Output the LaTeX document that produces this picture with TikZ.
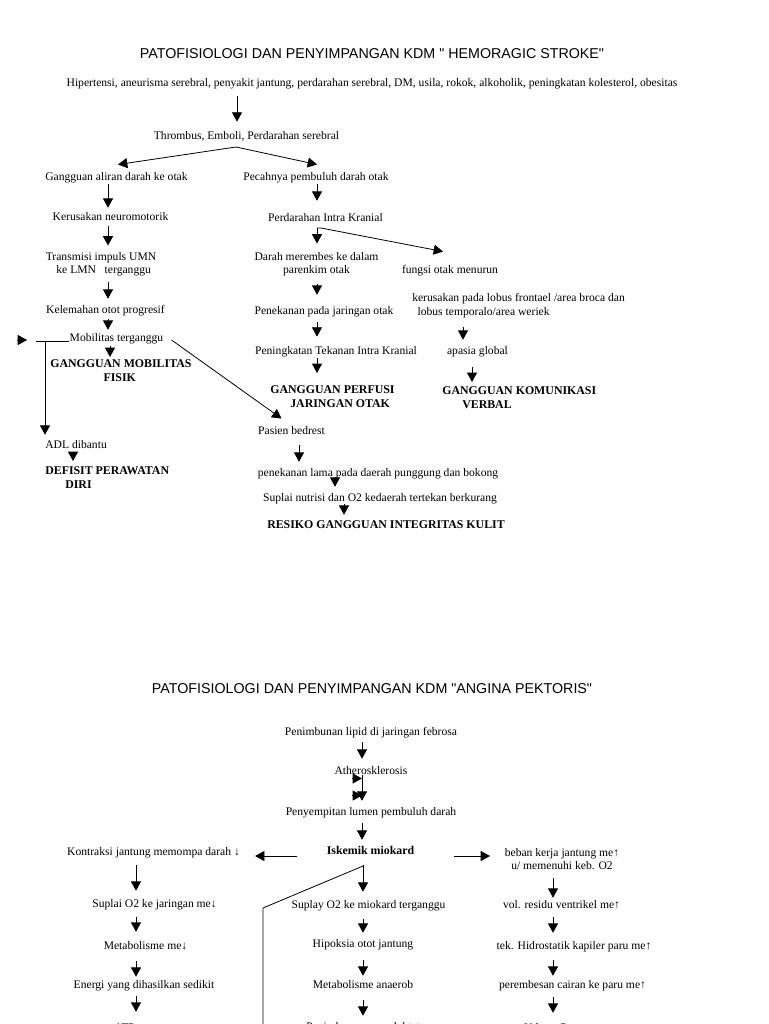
\documentclass[tikz,border=0pt]{standalone}
\usepackage{fontspec}
\setmainfont{Liberation Serif}
\newfontfamily\titlefont{Liberation Sans}
\usetikzlibrary{arrows.meta}
\begin{document}
\begin{tikzpicture}[x=0.75pt,y=-0.75pt,
  lbl/.style={inner sep=0pt, font=\fontsize{8.7}{10}\selectfont, text height=7.5pt, text depth=0.3pt},
  lblm/.style={inner sep=0pt, font=\fontsize{8.7}{10}\selectfont, align=center},
  bld/.style={inner sep=0pt, font=\fontsize{8.9}{10.5}\selectfont\bfseries, align=left},
  ttl/.style={inner sep=0pt, font=\titlefont\fontsize{10.7}{12}\selectfont},
  arr/.style={draw=black, line width=0.6pt, -{Triangle[length=7pt,width=7.5pt]}},
  ln/.style={draw=black, line width=0.6pt},
  gp/.style 2 args={shorten <=#1pt, shorten >=#2pt},
]
\useasboundingbox[fill=white] (0,0) rectangle (768,1024);
\clip (0,0) rectangle (768,1024);

% ---------- column coordinates ----------
\coordinate (cH) at (237,0);
\coordinate (cA) at (108,0);
\coordinate (cA2) at (110,0);
\coordinate (c73) at (73,0);
\coordinate (cB) at (317,0);
\coordinate (c299) at (299,0);
\coordinate (c335) at (335,0);
\coordinate (c344) at (344,0);
\coordinate (c463) at (463,0);
\coordinate (c472) at (472,0);
\coordinate (c362) at (362,0);
\coordinate (c136) at (136,0);
\coordinate (c363) at (363,0);
\coordinate (c553) at (553,0);

% ================= HEMORAGIC STROKE =================
\node[ttl] (t1) at (372,54) {PATOFISIOLOGI DAN PENYIMPANGAN KDM " HEMORAGIC STROKE"};
\node[lbl] (hip) at (372,82) {Hipertensi, aneurisma serebral, penyakit jantung, perdarahan serebral, DM, usila, rokok, alkoholik, peningkatan kolesterol, obesitas};
\node[lbl] (thr) at (246.5,135) {Thrombus, Emboli, Perdarahan serebral};
\node[lbl] (gad) at (116.5,176) {Gangguan aliran darah ke otak};
\node[lbl] (pec) at (316,176) {Pecahnya pembuluh darah otak};
\node[lbl] (ker) at (110.5,216) {Kerusakan neuromotorik};
\node[lblm] (tra) at (101,264.5) {Transmisi impuls UMN\\\hspace*{4pt}ke LMN \ \ terganggu};
\node[lbl] (kel) at (105.5,309) {Kelemahan otot progresif};
\node[lbl] (mob) at (116.5,337) {Mobilitas terganggu};
\node[bld,anchor=north west] (gmf) at (50,359.5) {GANGGUAN MOBILITAS\\\hspace*{40pt}FISIK};
\node[lbl,anchor=west] (adl) at (45,444) {ADL dibantu};
\node[bld,anchor=north west] (dpd) at (45,466.5) {DEFISIT PERAWATAN\\\hspace*{15pt}DIRI};

\node[lbl] (pir) at (325.5,217) {Perdarahan Intra Kranial};
\node[lblm] (dar) at (316.5,264) {Darah merembes ke dalam\\parenkim otak};
\node[lbl] (pen) at (324,310) {Penekanan pada jaringan otak};
\node[lbl] (pti) at (336,350) {Peningkatan Tekanan Intra Kranial};
\node[bld,anchor=north west] (gpj) at (270,385.5) {GANGGUAN PERFUSI\\\hspace*{15pt}JARINGAN OTAK};
\node[lbl] (pas) at (291.5,430) {Pasien bedrest};
\node[lbl] (plp) at (378,472) {penekanan lama pada daerah punggung dan bokong};
\node[lbl] (spn) at (380,497) {Suplai nutrisi dan O2 kedaerah tertekan berkurang};
\node[bld] (res) at (386,524.5) {RESIKO GANGGUAN INTEGRITAS KULIT};

\node[lbl] (fom) at (450,269) {fungsi otak menurun};
\node[lblm,align=left,anchor=west] (krs) at (412,305.5) {kerusakan pada lobus frontael /area broca dan\\\hspace*{4pt}lobus temporalo/area weriek};
\node[lbl] (apa) at (477.5,350) {apasia global};
\node[bld,anchor=north west] (gkv) at (442,386.5) {GANGGUAN KOMUNIKASI\\\hspace*{15pt}VERBAL};

% connectors
\draw[arr,gp={6.6}{5.9}] (hip.south -| cH) -- (thr.north -| cH);
\coordinate (thrb) at (236,147);
\draw[arr] (thrb) -- ([shift={(1.5,-6)}]gad.north);
\draw[arr] (thrb) -- ([shift={(1,-6)}]pec.north);
\draw[arr,gp={2.1}{2.1}] (gad.south -| cA) -- (ker.north -| cA);
\draw[arr,gp={3.6}{5.1}] (ker.south -| cA) -- (tra.north -| cA);
\draw[arr,gp={4.3}{3.6}] (tra.south -| cA) -- (kel.north -| cA);
\draw[arr,gp={3.6}{1.35}] (kel.south -| cA) -- (mob.north -| cA);
\draw[arr,gp={2.85}{1.9}] (mob.south -| cA2) -- (gmf.north -| cA2);
% left bracket
\coordinate (lh1) at (17,340);
\coordinate (lh2) at (27,340);
\draw[arr] (lh1) -- (lh2);
\coordinate (lb) at (36,341);
\coordinate (lc) at (45,341);
\draw[ln] (lb) -- ([yshift=-3pt]mob.west);
\draw[arr,gp={0}{2.85}] (lc) -- (adl.north west);
\draw[arr,gp={2.1}{4.1}] (adl.south -| c73) -- (dpd.north -| c73);
\draw[arr] ([shift={(55,3)}]mob.center) -- ([shift={(-10,-6)}]pas.north);

\draw[arr,gp={2.1}{8.1}] (pec.south -| cB) -- (pir.north -| cB);
\coordinate (pj) at (317,228);
\draw[arr,gp={0}{6.2}] (pj) -- (dar.north -| cB);
\draw[arr] (pj) -- ++(4,0) -- ([shift={(-7,-12)}]fom.north);
\draw[arr,gp={6.2}{7.3}] (dar.south -| cB) -- (pen.north -| cB);
\draw[arr,gp={5.1}{5.9}] (pen.south -| cB) -- (pti.north -| cB);
\draw[arr,gp={2.1}{9.4}] (pti.south -| cB) -- (gpj.north -| cB);
\draw[arr,gp={7.3}{3.6}] (pas.south -| c299) -- (plp.north -| c299);
\draw[arr,gp={0}{3.6}] (plp.south -| c335) -- (spn.north -| c335);
\draw[arr,gp={1.35}{4.1}] (spn.south -| c344) -- (res.north -| c344);
\draw[arr,gp={7.3}{3.6}] (krs.south -| c463) -- (apa.north -| c463);
\draw[arr,gp={8.85}{3.4}] (apa.south -| c472) -- (gkv.north -| c472);

% ================= ANGINA PEKTORIS =================
\node[ttl] (t2) at (372,689) {PATOFISIOLOGI DAN PENYIMPANGAN KDM "ANGINA PEKTORIS"};
\node[lbl] (pln) at (371,731) {Penimbunan lipid di jaringan febrosa};
\node[lbl] (ath) at (371,770) {Atherosklerosis};
\node[lbl] (pny) at (371,811) {Penyempitan lumen pembuluh darah};
\node[lbl,font=\fontsize{8.9}{10}\selectfont\bfseries] (isk) at (370.5,850) {Iskemik miokard};
\node[lbl] (kon) at (153.5,851) {Kontraksi jantung memompa darah ↓};
\node[lbl] (sup) at (154.5,903) {Suplai O2 ke jaringan me↓};
\node[lbl] (met) at (145.5,945) {Metabolisme me↓};
\node[lbl] (ene) at (144,984) {Energi yang dihasilkan sedikit};
\node[lbl] (atp) at (136,1027) {ATP me↓};
\node[lbl] (smk) at (368.5,904) {Suplay O2 ke miokard terganggu};
\node[lbl] (hpk) at (363,943) {Hipoksia otot jantung};
\node[lbl] (man) at (363,984) {Metabolisme anaerob};
\node[lbl] (pal) at (363,1026) {Penimbunan asam laktat};
\node[lblm] (beb) at (562,859) {beban kerja jantung me↑\\u/ memenuhi keb. O2};
\node[lbl] (vol) at (561.5,904) {vol. residu ventrikel me↑};
\node[lbl] (tek) at (574,945) {tek. Hidrostatik kapiler paru me↑};
\node[lbl] (per) at (572.5,984) {perembesan cairan ke paru me↑};
\node[lbl] (ude) at (553,1027) {Udema Paru};

\draw[arr,gp={4.35}{4.35}] (pln.south -| c362) -- (ath.north -| c362);
\draw[arr] ([shift={(-19,3)}]ath.south) -- ([shift={(-9,3)}]ath.south);
\draw[arr,gp={0}{3.6}] (ath.south -| c362) -- (pny.north -| c362);
\draw[arr] ([shift={(-19,-10)}]pny.north) -- ([shift={(-9,-10)}]pny.north);
\draw[arr,gp={5.1}{3.6}] (pny.south -| c362) -- (isk.north -| c362);
\draw[arr,gp={22.5}{11.25}] ([yshift=-4.5pt]isk.west) -- ([yshift=-4.5pt]isk.west -| kon.east);
\draw[arr,gp={30}{10.9}] ([yshift=-4.5pt]isk.east) -- ([yshift=-4.5pt]isk.east -| beb.west);

\draw[arr,gp={6.6}{5.1}] (kon.south -| c136) -- (sup.north -| c136);
\draw[arr,gp={6.6}{5.85}] (sup.south -| c136) -- (met.north -| c136);
\draw[arr,gp={8.1}{1.35}] (met.south -| c136) -- (ene.north -| c136);
\draw[arr,gp={5.1}{7.35}] (ene.south -| c136) -- (atp.north -| c136);

\draw[arr,gp={7.35}{5.1}] (isk.south -| c363) -- (smk.north -| c363);
\coordinate (pl0) at (363,866);
\coordinate (pl1) at (263,908);
\coordinate (pl2) at (263,1030);
\draw[ln] (pl0) -- (pl1) -- (pl2);
\draw[arr,gp={7.35}{3.6}] (smk.south -| c363) -- (hpk.north -| c363);
\draw[arr,gp={8.85}{2.1}] (hpk.south -| c363) -- (man.north -| c363);
\draw[arr,gp={8.1}{3.6}] (man.south -| c363) -- (pal.north -| c363);

\draw[arr,gp={6.2}{0.6}] (beb.south -| c553) -- (vol.north -| c553);
\draw[arr,gp={5.85}{5.1}] (vol.south -| c553) -- (tek.north -| c553);
\draw[arr,gp={7.35}{2.1}] (tek.south -| c553) -- (per.north -| c553);
\draw[arr,gp={5.85}{6.6}] (per.south -| c553) -- (ude.north -| c553);
\end{tikzpicture}
\end{document}
